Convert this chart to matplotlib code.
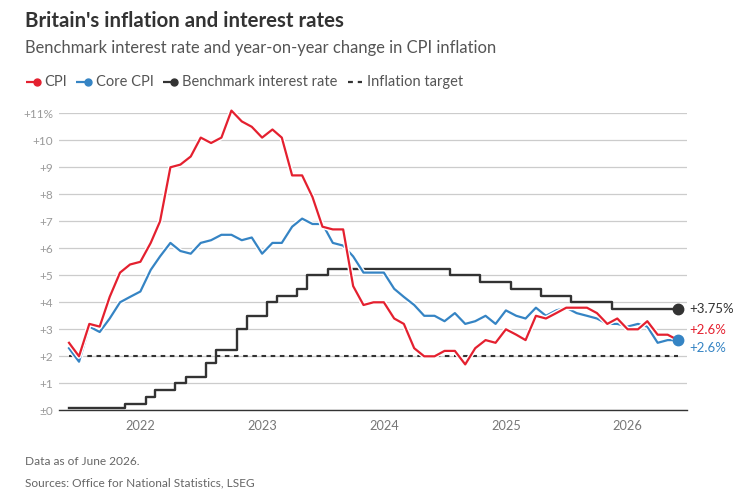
import matplotlib
matplotlib.use('Agg')
import matplotlib.pyplot as plt
import matplotlib.patheffects as pe
import pandas as pd

# ---------------- data ----------------
dates = pd.date_range('2021-06-01', '2026-06-01', freq='MS')

cpi = [2.5, 2.0, 3.2, 3.1, 4.2, 5.1, 5.4,
       5.5, 6.2, 7.0, 9.0, 9.1, 9.4, 10.1, 9.9, 10.1, 11.1, 10.7, 10.5,
       10.1, 10.4, 10.1, 8.7, 8.7, 7.9, 6.8, 6.7, 6.7, 4.6, 3.9, 4.0,
       4.0, 3.4, 3.2, 2.3, 2.0, 2.0, 2.2, 2.2, 1.7, 2.3, 2.6, 2.5,
       3.0, 2.8, 2.6, 3.5, 3.4, 3.6, 3.8, 3.8, 3.8, 3.6, 3.2, 3.4,
       3.0, 3.0, 3.3, 2.8, 2.8, 2.6]

core_cpi = [2.3, 1.8, 3.1, 2.9, 3.4, 4.0, 4.2,
            4.4, 5.2, 5.7, 6.2, 5.9, 5.8, 6.2, 6.3, 6.5, 6.5, 6.3, 6.4,
            5.8, 6.2, 6.2, 6.8, 7.1, 6.9, 6.9, 6.2, 6.1, 5.7, 5.1, 5.1,
            5.1, 4.5, 4.2, 3.9, 3.5, 3.5, 3.3, 3.6, 3.2, 3.3, 3.5, 3.2,
            3.7, 3.5, 3.4, 3.8, 3.5, 3.7, 3.8, 3.6, 3.5, 3.4, 3.2, 3.2,
            3.1, 3.2, 3.1, 2.5, 2.6, 2.6]

bank_rate = [0.1, 0.1, 0.1, 0.1, 0.1, 0.1, 0.25,
             0.25, 0.5, 0.75, 0.75, 1.0, 1.25, 1.25, 1.75, 2.25, 2.25, 3.0, 3.5,
             3.5, 4.0, 4.25, 4.25, 4.5, 5.0, 5.0, 5.25, 5.25, 5.25, 5.25, 5.25,
             5.25, 5.25, 5.25, 5.25, 5.25, 5.25, 5.25, 5.0, 5.0, 5.0, 4.75, 4.75,
             4.75, 4.5, 4.5, 4.5, 4.25, 4.25, 4.25, 4.0, 4.0, 4.0, 4.0, 3.75,
             3.75, 3.75, 3.75, 3.75, 3.75, 3.75]

inflation_target = [2.0] * len(dates)

y_ticks = list(range(0, 12))
y_tick_labels = ['±0', '+1', '+2', '+3', '+4', '+5', '+6', '+7', '+8', '+9', '+10', '+11%']
x_years = [2022, 2023, 2024, 2025, 2026]

series_names = ['CPI', 'Core CPI', 'Benchmark interest rate', 'Inflation target']

# ---------------- style ----------------
RED = '#e4202f'
BLUE = '#3584c4'
DARK = '#333333'
plt.rcParams['font.family'] = ['Lato', 'DejaVu Sans']

W, H = 743, 498
fig = plt.figure(figsize=(W / 100, H / 100), dpi=100)
fig.patch.set_facecolor('white')

ax_left, ax_right = 59, 687
ax_top, ax_bottom = 113.3, 410.3
ax = fig.add_axes([ax_left / W, 1 - ax_bottom / H, (ax_right - ax_left) / W, (ax_bottom - ax_top) / H])

ax.set_ylim(0, 11)
ax.set_xlim(pd.Timestamp('2021-05-02'), pd.Timestamp('2026-06-28'))
ax.set_yticks(y_ticks)
ax.set_yticklabels(y_tick_labels)
ax.set_xticks([pd.Timestamp(f'{y}-01-01') for y in x_years])
ax.set_xticklabels([str(y) for y in x_years])
ax.grid(axis='y', color='#cccccc', lw=0.9, zorder=0)
ax.set_axisbelow(True)
for s in ['top', 'right', 'left']:
    ax.spines[s].set_visible(False)
ax.spines['bottom'].set_color(DARK)
ax.spines['bottom'].set_linewidth(1.0)
ax.spines['bottom'].set_zorder(1)
ax.tick_params(axis='y', length=0, pad=4.3, labelsize=8.5, labelcolor='#9a9a9a')
ax.tick_params(axis='x', length=0, pad=7, labelsize=9.2, labelcolor='#777777')

halo = [pe.Stroke(linewidth=3.6, foreground='white'), pe.Normal()]

ax.plot(dates, inflation_target, color=DARK, lw=1.5, ls=(0, (2.2, 2.2)), zorder=2)
ax.plot(dates, bank_rate, color=DARK, lw=1.7, drawstyle='steps-mid', zorder=3,
        clip_on=False)
ax.plot(dates, core_cpi, color=BLUE, lw=1.6, zorder=4, path_effects=halo, clip_on=False)
ax.plot(dates, cpi, color=RED, lw=1.6, zorder=5, path_effects=halo, clip_on=False)

ax.plot(dates[-1], bank_rate[-1], 'o', ms=7.5, color=DARK, zorder=6, clip_on=False)
ax.plot(dates[-1], core_cpi[-1], 'o', ms=7.5, color=BLUE, zorder=6, clip_on=False)

def fmt(v):
    return f'+{v:g}%'

ax.annotate(fmt(bank_rate[-1]), xy=(dates[-1], bank_rate[-1]), xytext=(8, 0),
            textcoords='offset points', va='center', ha='left', fontsize=9.5, color=DARK)
ax.annotate(fmt(cpi[-1]), xy=(dates[-1], cpi[-1]), xytext=(8, 7.2),
            textcoords='offset points', va='center', ha='left', fontsize=9.5, color=RED)
ax.annotate(fmt(core_cpi[-1]), xy=(dates[-1], core_cpi[-1]), xytext=(8, -5.9),
            textcoords='offset points', va='center', ha='left', fontsize=9.5, color=BLUE)

# ---------------- header / legend / footer (pixel overlay) ----------------
lax = fig.add_axes([0, 0, 1, 1], zorder=10)
lax.set_xlim(0, W)
lax.set_ylim(H, 0)
lax.axis('off')
lax.patch.set_alpha(0)

lax.text(25, 27, "Britain's inflation and interest rates", fontsize=14.7, weight='bold',
         color=DARK, va='baseline', ha='left')
lax.text(25, 53, 'Benchmark interest rate and year-on-year change in CPI inflation',
         fontsize=11.9, color='#555555', va='baseline', ha='left')

leg_y = 82
leg_items = [
    (25.7, 39, 44.3, RED, 'solid', True),
    (76, 90, 96, BLUE, 'solid', True),
    (162.7, 176, 181.7, DARK, 'solid', True),
    (348, 361.7, 366.7, DARK, 'dashed', False),
]
for (x0, x1, xt, c, st, dot), name in zip(leg_items, series_names):
    if st == 'solid':
        lax.plot([x0, x1], [leg_y, leg_y], color=c, lw=1.6, solid_capstyle='butt')
    else:
        lax.plot([x0, x1], [leg_y, leg_y], color=c, lw=1.6, ls=(0, (2.2, 2.2)))
    if dot:
        lax.plot([x1 - 2.5], [leg_y], 'o', ms=5, color=c)
    lax.text(xt, leg_y, name, fontsize=10.5, color='#555555', va='center', ha='left')

lax.text(25, 461, 'Data as of June 2026.', fontsize=8.6, color='#666666', va='center', ha='left')
lax.text(25, 483, 'Sources: Office for National Statistics, LSEG', fontsize=8.6,
         color='#666666', va='center', ha='left')

fig.savefig('out.png', dpi=100, facecolor='white')
